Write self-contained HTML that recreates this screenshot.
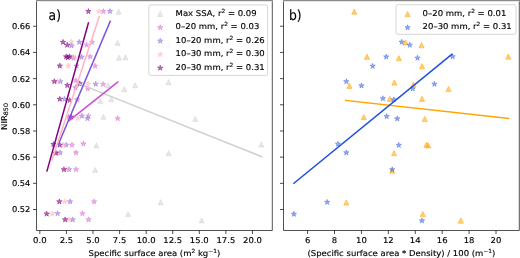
<!DOCTYPE html>
<html><head><meta charset="utf-8"><title>NIR850 vs SSA</title>
<style>html,body{margin:0;padding:0;background:#fff;width:520px;height:258px;overflow:hidden}svg{display:block}</style>
</head><body>
<svg width="520" height="258" viewBox="0 0 520 258" text-rendering="geometricPrecision" font-family="'DejaVu Sans', 'Liberation Sans', sans-serif" fill="#000"><style>text{stroke:#000;stroke-width:0.14px;paint-order:stroke}</style>
<rect width="520" height="258" fill="#fff"/>
<defs><clipPath id="cl"><rect x="36.50" y="0.10" width="235.80" height="230.40"/></clipPath><clipPath id="cr"><rect x="283.50" y="0.10" width="235.80" height="230.40"/></clipPath></defs>
<g clip-path="url(#cl)">
<path d="M118.60 9.00 L116.00 14.20 L121.20 14.20 Z" fill="#d3d3d3" fill-opacity="0.54" stroke="#d3d3d3" stroke-opacity="0.60" stroke-width="0.80" stroke-linejoin="miter"/>
<path d="M117.60 40.20 L115.00 45.40 L120.20 45.40 Z" fill="#d3d3d3" fill-opacity="0.54" stroke="#d3d3d3" stroke-opacity="0.60" stroke-width="0.80" stroke-linejoin="miter"/>
<path d="M119.10 55.10 L116.50 60.30 L121.70 60.30 Z" fill="#d3d3d3" fill-opacity="0.54" stroke="#d3d3d3" stroke-opacity="0.60" stroke-width="0.80" stroke-linejoin="miter"/>
<path d="M125.50 54.70 L122.90 59.90 L128.10 59.90 Z" fill="#d3d3d3" fill-opacity="0.54" stroke="#d3d3d3" stroke-opacity="0.60" stroke-width="0.80" stroke-linejoin="miter"/>
<path d="M169.00 42.60 L166.40 47.80 L171.60 47.80 Z" fill="#d3d3d3" fill-opacity="0.54" stroke="#d3d3d3" stroke-opacity="0.60" stroke-width="0.80" stroke-linejoin="miter"/>
<path d="M108.00 82.80 L105.40 88.00 L110.60 88.00 Z" fill="#d3d3d3" fill-opacity="0.54" stroke="#d3d3d3" stroke-opacity="0.60" stroke-width="0.80" stroke-linejoin="miter"/>
<path d="M135.10 82.60 L132.50 87.80 L137.70 87.80 Z" fill="#d3d3d3" fill-opacity="0.54" stroke="#d3d3d3" stroke-opacity="0.60" stroke-width="0.80" stroke-linejoin="miter"/>
<path d="M124.30 86.60 L121.70 91.80 L126.90 91.80 Z" fill="#d3d3d3" fill-opacity="0.54" stroke="#d3d3d3" stroke-opacity="0.60" stroke-width="0.80" stroke-linejoin="miter"/>
<path d="M100.20 98.30 L97.60 103.50 L102.80 103.50 Z" fill="#d3d3d3" fill-opacity="0.54" stroke="#d3d3d3" stroke-opacity="0.60" stroke-width="0.80" stroke-linejoin="miter"/>
<path d="M111.20 96.50 L108.60 101.70 L113.80 101.70 Z" fill="#d3d3d3" fill-opacity="0.54" stroke="#d3d3d3" stroke-opacity="0.60" stroke-width="0.80" stroke-linejoin="miter"/>
<path d="M103.40 114.10 L100.80 119.30 L106.00 119.30 Z" fill="#d3d3d3" fill-opacity="0.54" stroke="#d3d3d3" stroke-opacity="0.60" stroke-width="0.80" stroke-linejoin="miter"/>
<path d="M96.40 142.70 L93.80 147.90 L99.00 147.90 Z" fill="#d3d3d3" fill-opacity="0.54" stroke="#d3d3d3" stroke-opacity="0.60" stroke-width="0.80" stroke-linejoin="miter"/>
<path d="M95.20 167.30 L92.60 172.50 L97.80 172.50 Z" fill="#d3d3d3" fill-opacity="0.54" stroke="#d3d3d3" stroke-opacity="0.60" stroke-width="0.80" stroke-linejoin="miter"/>
<path d="M168.60 79.50 L166.00 84.70 L171.20 84.70 Z" fill="#d3d3d3" fill-opacity="0.54" stroke="#d3d3d3" stroke-opacity="0.60" stroke-width="0.80" stroke-linejoin="miter"/>
<path d="M195.30 116.30 L192.70 121.50 L197.90 121.50 Z" fill="#d3d3d3" fill-opacity="0.54" stroke="#d3d3d3" stroke-opacity="0.60" stroke-width="0.80" stroke-linejoin="miter"/>
<path d="M261.40 141.90 L258.80 147.10 L264.00 147.10 Z" fill="#d3d3d3" fill-opacity="0.54" stroke="#d3d3d3" stroke-opacity="0.60" stroke-width="0.80" stroke-linejoin="miter"/>
<path d="M168.60 150.60 L166.00 155.80 L171.20 155.80 Z" fill="#d3d3d3" fill-opacity="0.54" stroke="#d3d3d3" stroke-opacity="0.60" stroke-width="0.80" stroke-linejoin="miter"/>
<path d="M160.70 199.60 L158.10 204.80 L163.30 204.80 Z" fill="#d3d3d3" fill-opacity="0.54" stroke="#d3d3d3" stroke-opacity="0.60" stroke-width="0.80" stroke-linejoin="miter"/>
<path d="M128.10 211.40 L125.50 216.60 L130.70 216.60 Z" fill="#d3d3d3" fill-opacity="0.54" stroke="#d3d3d3" stroke-opacity="0.60" stroke-width="0.80" stroke-linejoin="miter"/>
<path d="M201.70 217.70 L199.10 222.90 L204.30 222.90 Z" fill="#d3d3d3" fill-opacity="0.54" stroke="#d3d3d3" stroke-opacity="0.60" stroke-width="0.80" stroke-linejoin="miter"/>
<path d="M78.20 79.90 L75.60 85.10 L80.80 85.10 Z" fill="#d3d3d3" fill-opacity="0.54" stroke="#d3d3d3" stroke-opacity="0.60" stroke-width="0.80" stroke-linejoin="miter"/>
<path d="M103.40 8.60 L102.77 10.53 L100.74 10.53 L102.38 11.73 L101.75 13.67 L103.40 12.47 L105.05 13.67 L104.42 11.73 L106.06 10.53 L104.03 10.53 Z" fill="#da70d6" fill-opacity="0.54" stroke="#da70d6" stroke-opacity="0.60" stroke-width="0.80" stroke-linejoin="miter"/>
<path d="M86.60 42.20 L85.97 44.13 L83.94 44.13 L85.58 45.33 L84.95 47.27 L86.60 46.07 L88.25 47.27 L87.62 45.33 L89.26 44.13 L87.23 44.13 Z" fill="#da70d6" fill-opacity="0.54" stroke="#da70d6" stroke-opacity="0.60" stroke-width="0.80" stroke-linejoin="miter"/>
<path d="M92.00 39.40 L91.37 41.33 L89.34 41.33 L90.98 42.53 L90.35 44.47 L92.00 43.27 L93.65 44.47 L93.02 42.53 L94.66 41.33 L92.63 41.33 Z" fill="#da70d6" fill-opacity="0.54" stroke="#da70d6" stroke-opacity="0.60" stroke-width="0.80" stroke-linejoin="miter"/>
<path d="M90.10 53.90 L89.47 55.83 L87.44 55.83 L89.08 57.03 L88.45 58.97 L90.10 57.77 L91.75 58.97 L91.12 57.03 L92.76 55.83 L90.73 55.83 Z" fill="#da70d6" fill-opacity="0.54" stroke="#da70d6" stroke-opacity="0.60" stroke-width="0.80" stroke-linejoin="miter"/>
<path d="M95.10 63.20 L94.47 65.13 L92.44 65.13 L94.08 66.33 L93.45 68.27 L95.10 67.07 L96.75 68.27 L96.12 66.33 L97.76 65.13 L95.73 65.13 Z" fill="#da70d6" fill-opacity="0.54" stroke="#da70d6" stroke-opacity="0.60" stroke-width="0.80" stroke-linejoin="miter"/>
<path d="M75.90 77.80 L75.27 79.73 L73.24 79.73 L74.88 80.93 L74.25 82.87 L75.90 81.67 L77.55 82.87 L76.92 80.93 L78.56 79.73 L76.53 79.73 Z" fill="#da70d6" fill-opacity="0.54" stroke="#da70d6" stroke-opacity="0.60" stroke-width="0.80" stroke-linejoin="miter"/>
<path d="M87.90 86.00 L87.27 87.93 L85.24 87.93 L86.88 89.13 L86.25 91.07 L87.90 89.87 L89.55 91.07 L88.92 89.13 L90.56 87.93 L88.53 87.93 Z" fill="#da70d6" fill-opacity="0.54" stroke="#da70d6" stroke-opacity="0.60" stroke-width="0.80" stroke-linejoin="miter"/>
<path d="M103.10 81.50 L102.47 83.43 L100.44 83.43 L102.08 84.63 L101.45 86.57 L103.10 85.37 L104.75 86.57 L104.12 84.63 L105.76 83.43 L103.73 83.43 Z" fill="#da70d6" fill-opacity="0.54" stroke="#da70d6" stroke-opacity="0.60" stroke-width="0.80" stroke-linejoin="miter"/>
<path d="M77.10 96.90 L76.47 98.83 L74.44 98.83 L76.08 100.03 L75.45 101.97 L77.10 100.77 L78.75 101.97 L78.12 100.03 L79.76 98.83 L77.73 98.83 Z" fill="#da70d6" fill-opacity="0.54" stroke="#da70d6" stroke-opacity="0.60" stroke-width="0.80" stroke-linejoin="miter"/>
<path d="M88.40 113.20 L87.77 115.13 L85.74 115.13 L87.38 116.33 L86.75 118.27 L88.40 117.07 L90.05 118.27 L89.42 116.33 L91.06 115.13 L89.03 115.13 Z" fill="#da70d6" fill-opacity="0.54" stroke="#da70d6" stroke-opacity="0.60" stroke-width="0.80" stroke-linejoin="miter"/>
<path d="M117.70 115.70 L117.07 117.63 L115.04 117.63 L116.68 118.83 L116.05 120.77 L117.70 119.57 L119.35 120.77 L118.72 118.83 L120.36 117.63 L118.33 117.63 Z" fill="#da70d6" fill-opacity="0.54" stroke="#da70d6" stroke-opacity="0.60" stroke-width="0.80" stroke-linejoin="miter"/>
<path d="M72.00 142.20 L71.37 144.13 L69.34 144.13 L70.98 145.33 L70.35 147.27 L72.00 146.07 L73.65 147.27 L73.02 145.33 L74.66 144.13 L72.63 144.13 Z" fill="#da70d6" fill-opacity="0.54" stroke="#da70d6" stroke-opacity="0.60" stroke-width="0.80" stroke-linejoin="miter"/>
<path d="M83.40 141.00 L82.77 142.93 L80.74 142.93 L82.38 144.13 L81.75 146.07 L83.40 144.87 L85.05 146.07 L84.42 144.13 L86.06 142.93 L84.03 142.93 Z" fill="#da70d6" fill-opacity="0.54" stroke="#da70d6" stroke-opacity="0.60" stroke-width="0.80" stroke-linejoin="miter"/>
<path d="M76.00 149.90 L75.37 151.83 L73.34 151.83 L74.98 153.03 L74.35 154.97 L76.00 153.77 L77.65 154.97 L77.02 153.03 L78.66 151.83 L76.63 151.83 Z" fill="#da70d6" fill-opacity="0.54" stroke="#da70d6" stroke-opacity="0.60" stroke-width="0.80" stroke-linejoin="miter"/>
<path d="M76.00 166.70 L75.37 168.63 L73.34 168.63 L74.98 169.83 L74.35 171.77 L76.00 170.57 L77.65 171.77 L77.02 169.83 L78.66 168.63 L76.63 168.63 Z" fill="#da70d6" fill-opacity="0.54" stroke="#da70d6" stroke-opacity="0.60" stroke-width="0.80" stroke-linejoin="miter"/>
<path d="M94.10 198.90 L93.47 200.83 L91.44 200.83 L93.08 202.03 L92.45 203.97 L94.10 202.77 L95.75 203.97 L95.12 202.03 L96.76 200.83 L94.73 200.83 Z" fill="#da70d6" fill-opacity="0.54" stroke="#da70d6" stroke-opacity="0.60" stroke-width="0.80" stroke-linejoin="miter"/>
<path d="M82.40 210.70 L81.77 212.63 L79.74 212.63 L81.38 213.83 L80.75 215.77 L82.40 214.57 L84.05 215.77 L83.42 213.83 L85.06 212.63 L83.03 212.63 Z" fill="#da70d6" fill-opacity="0.54" stroke="#da70d6" stroke-opacity="0.60" stroke-width="0.80" stroke-linejoin="miter"/>
<path d="M88.60 216.90 L87.97 218.83 L85.94 218.83 L87.58 220.03 L86.95 221.97 L88.60 220.77 L90.25 221.97 L89.62 220.03 L91.26 218.83 L89.23 218.83 Z" fill="#da70d6" fill-opacity="0.54" stroke="#da70d6" stroke-opacity="0.60" stroke-width="0.80" stroke-linejoin="miter"/>
<path d="M68.80 114.30 L68.17 116.23 L66.14 116.23 L67.78 117.43 L67.15 119.37 L68.80 118.17 L70.45 119.37 L69.82 117.43 L71.46 116.23 L69.43 116.23 Z" fill="#da70d6" fill-opacity="0.54" stroke="#da70d6" stroke-opacity="0.60" stroke-width="0.80" stroke-linejoin="miter"/>
<path d="M110.00 8.60 L109.37 10.53 L107.34 10.53 L108.98 11.73 L108.35 13.67 L110.00 12.47 L111.65 13.67 L111.02 11.73 L112.66 10.53 L110.63 10.53 Z" fill="#9370db" fill-opacity="0.54" stroke="#9370db" stroke-opacity="0.60" stroke-width="0.80" stroke-linejoin="miter"/>
<path d="M71.50 42.90 L70.87 44.83 L68.84 44.83 L70.48 46.03 L69.85 47.97 L71.50 46.77 L73.15 47.97 L72.52 46.03 L74.16 44.83 L72.13 44.83 Z" fill="#9370db" fill-opacity="0.54" stroke="#9370db" stroke-opacity="0.60" stroke-width="0.80" stroke-linejoin="miter"/>
<path d="M79.30 39.40 L78.67 41.33 L76.64 41.33 L78.28 42.53 L77.65 44.47 L79.30 43.27 L80.95 44.47 L80.32 42.53 L81.96 41.33 L79.93 41.33 Z" fill="#9370db" fill-opacity="0.54" stroke="#9370db" stroke-opacity="0.60" stroke-width="0.80" stroke-linejoin="miter"/>
<path d="M81.60 54.30 L80.97 56.23 L78.94 56.23 L80.58 57.43 L79.95 59.37 L81.60 58.17 L83.25 59.37 L82.62 57.43 L84.26 56.23 L82.23 56.23 Z" fill="#9370db" fill-opacity="0.54" stroke="#9370db" stroke-opacity="0.60" stroke-width="0.80" stroke-linejoin="miter"/>
<path d="M73.60 55.30 L72.97 57.23 L70.94 57.23 L72.58 58.43 L71.95 60.37 L73.60 59.17 L75.25 60.37 L74.62 58.43 L76.26 57.23 L74.23 57.23 Z" fill="#9370db" fill-opacity="0.54" stroke="#9370db" stroke-opacity="0.60" stroke-width="0.80" stroke-linejoin="miter"/>
<path d="M76.50 63.10 L75.87 65.03 L73.84 65.03 L75.48 66.23 L74.85 68.17 L76.50 66.97 L78.15 68.17 L77.52 66.23 L79.16 65.03 L77.13 65.03 Z" fill="#9370db" fill-opacity="0.54" stroke="#9370db" stroke-opacity="0.60" stroke-width="0.80" stroke-linejoin="miter"/>
<path d="M60.30 78.70 L59.67 80.63 L57.64 80.63 L59.28 81.83 L58.65 83.77 L60.30 82.57 L61.95 83.77 L61.32 81.83 L62.96 80.63 L60.93 80.63 Z" fill="#9370db" fill-opacity="0.54" stroke="#9370db" stroke-opacity="0.60" stroke-width="0.80" stroke-linejoin="miter"/>
<path d="M95.70 81.30 L95.07 83.23 L93.04 83.23 L94.68 84.43 L94.05 86.37 L95.70 85.17 L97.35 86.37 L96.72 84.43 L98.36 83.23 L96.33 83.23 Z" fill="#9370db" fill-opacity="0.54" stroke="#9370db" stroke-opacity="0.60" stroke-width="0.80" stroke-linejoin="miter"/>
<path d="M64.50 96.30 L63.87 98.23 L61.84 98.23 L63.48 99.43 L62.85 101.37 L64.50 100.17 L66.15 101.37 L65.52 99.43 L67.16 98.23 L65.13 98.23 Z" fill="#9370db" fill-opacity="0.54" stroke="#9370db" stroke-opacity="0.60" stroke-width="0.80" stroke-linejoin="miter"/>
<path d="M81.90 113.20 L81.27 115.13 L79.24 115.13 L80.88 116.33 L80.25 118.27 L81.90 117.07 L83.55 118.27 L82.92 116.33 L84.56 115.13 L82.53 115.13 Z" fill="#9370db" fill-opacity="0.54" stroke="#9370db" stroke-opacity="0.60" stroke-width="0.80" stroke-linejoin="miter"/>
<path d="M87.50 115.70 L86.87 117.63 L84.84 117.63 L86.48 118.83 L85.85 120.77 L87.50 119.57 L89.15 120.77 L88.52 118.83 L90.16 117.63 L88.13 117.63 Z" fill="#9370db" fill-opacity="0.54" stroke="#9370db" stroke-opacity="0.60" stroke-width="0.80" stroke-linejoin="miter"/>
<path d="M66.20 142.20 L65.57 144.13 L63.54 144.13 L65.18 145.33 L64.55 147.27 L66.20 146.07 L67.85 147.27 L67.22 145.33 L68.86 144.13 L66.83 144.13 Z" fill="#9370db" fill-opacity="0.54" stroke="#9370db" stroke-opacity="0.60" stroke-width="0.80" stroke-linejoin="miter"/>
<path d="M60.10 149.90 L59.47 151.83 L57.44 151.83 L59.08 153.03 L58.45 154.97 L60.10 153.77 L61.75 154.97 L61.12 153.03 L62.76 151.83 L60.73 151.83 Z" fill="#9370db" fill-opacity="0.54" stroke="#9370db" stroke-opacity="0.60" stroke-width="0.80" stroke-linejoin="miter"/>
<path d="M69.00 166.70 L68.37 168.63 L66.34 168.63 L67.98 169.83 L67.35 171.77 L69.00 170.57 L70.65 171.77 L70.02 169.83 L71.66 168.63 L69.63 168.63 Z" fill="#9370db" fill-opacity="0.54" stroke="#9370db" stroke-opacity="0.60" stroke-width="0.80" stroke-linejoin="miter"/>
<path d="M70.10 198.90 L69.47 200.83 L67.44 200.83 L69.08 202.03 L68.45 203.97 L70.10 202.77 L71.75 203.97 L71.12 202.03 L72.76 200.83 L70.73 200.83 Z" fill="#9370db" fill-opacity="0.54" stroke="#9370db" stroke-opacity="0.60" stroke-width="0.80" stroke-linejoin="miter"/>
<path d="M57.60 210.70 L56.97 212.63 L54.94 212.63 L56.58 213.83 L55.95 215.77 L57.60 214.57 L59.25 215.77 L58.62 213.83 L60.26 212.63 L58.23 212.63 Z" fill="#9370db" fill-opacity="0.54" stroke="#9370db" stroke-opacity="0.60" stroke-width="0.80" stroke-linejoin="miter"/>
<path d="M72.70 216.90 L72.07 218.83 L70.04 218.83 L71.68 220.03 L71.05 221.97 L72.70 220.77 L74.35 221.97 L73.72 220.03 L75.36 218.83 L73.33 218.83 Z" fill="#9370db" fill-opacity="0.54" stroke="#9370db" stroke-opacity="0.60" stroke-width="0.80" stroke-linejoin="miter"/>
<path d="M75.50 84.80 L74.87 86.73 L72.84 86.73 L74.48 87.93 L73.85 89.87 L75.50 88.67 L77.15 89.87 L76.52 87.93 L78.16 86.73 L76.13 86.73 Z" fill="#9370db" fill-opacity="0.54" stroke="#9370db" stroke-opacity="0.60" stroke-width="0.80" stroke-linejoin="miter"/>
<path d="M99.10 8.60 L98.47 10.53 L96.44 10.53 L98.08 11.73 L97.45 13.67 L99.10 12.47 L100.75 13.67 L100.12 11.73 L101.76 10.53 L99.73 10.53 Z" fill="#ffb6c1" fill-opacity="0.54" stroke="#ffb6c1" stroke-opacity="0.60" stroke-width="0.80" stroke-linejoin="miter"/>
<path d="M71.50 39.10 L70.87 41.03 L68.84 41.03 L70.48 42.23 L69.85 44.17 L71.50 42.97 L73.15 44.17 L72.52 42.23 L74.16 41.03 L72.13 41.03 Z" fill="#ffb6c1" fill-opacity="0.54" stroke="#ffb6c1" stroke-opacity="0.60" stroke-width="0.80" stroke-linejoin="miter"/>
<path d="M73.70 53.90 L73.07 55.83 L71.04 55.83 L72.68 57.03 L72.05 58.97 L73.70 57.77 L75.35 58.97 L74.72 57.03 L76.36 55.83 L74.33 55.83 Z" fill="#ffb6c1" fill-opacity="0.54" stroke="#ffb6c1" stroke-opacity="0.60" stroke-width="0.80" stroke-linejoin="miter"/>
<path d="M68.30 63.10 L67.67 65.03 L65.64 65.03 L67.28 66.23 L66.65 68.17 L68.30 66.97 L69.95 68.17 L69.32 66.23 L70.96 65.03 L68.93 65.03 Z" fill="#ffb6c1" fill-opacity="0.54" stroke="#ffb6c1" stroke-opacity="0.60" stroke-width="0.80" stroke-linejoin="miter"/>
<path d="M57.30 78.70 L56.67 80.63 L54.64 80.63 L56.28 81.83 L55.65 83.77 L57.30 82.57 L58.95 83.77 L58.32 81.83 L59.96 80.63 L57.93 80.63 Z" fill="#ffb6c1" fill-opacity="0.54" stroke="#ffb6c1" stroke-opacity="0.60" stroke-width="0.80" stroke-linejoin="miter"/>
<path d="M87.90 80.90 L87.27 82.83 L85.24 82.83 L86.88 84.03 L86.25 85.97 L87.90 84.77 L89.55 85.97 L88.92 84.03 L90.56 82.83 L88.53 82.83 Z" fill="#ffb6c1" fill-opacity="0.54" stroke="#ffb6c1" stroke-opacity="0.60" stroke-width="0.80" stroke-linejoin="miter"/>
<path d="M77.80 115.40 L77.17 117.33 L75.14 117.33 L76.78 118.53 L76.15 120.47 L77.80 119.27 L79.45 120.47 L78.82 118.53 L80.46 117.33 L78.43 117.33 Z" fill="#ffb6c1" fill-opacity="0.54" stroke="#ffb6c1" stroke-opacity="0.60" stroke-width="0.80" stroke-linejoin="miter"/>
<path d="M63.30 142.20 L62.67 144.13 L60.64 144.13 L62.28 145.33 L61.65 147.27 L63.30 146.07 L64.95 147.27 L64.32 145.33 L65.96 144.13 L63.93 144.13 Z" fill="#ffb6c1" fill-opacity="0.54" stroke="#ffb6c1" stroke-opacity="0.60" stroke-width="0.80" stroke-linejoin="miter"/>
<path d="M57.60 150.30 L56.97 152.23 L54.94 152.23 L56.58 153.43 L55.95 155.37 L57.60 154.17 L59.25 155.37 L58.62 153.43 L60.26 152.23 L58.23 152.23 Z" fill="#ffb6c1" fill-opacity="0.54" stroke="#ffb6c1" stroke-opacity="0.60" stroke-width="0.80" stroke-linejoin="miter"/>
<path d="M64.80 198.90 L64.17 200.83 L62.14 200.83 L63.78 202.03 L63.15 203.97 L64.80 202.77 L66.45 203.97 L65.82 202.03 L67.46 200.83 L65.43 200.83 Z" fill="#ffb6c1" fill-opacity="0.54" stroke="#ffb6c1" stroke-opacity="0.60" stroke-width="0.80" stroke-linejoin="miter"/>
<path d="M52.30 211.10 L51.67 213.03 L49.64 213.03 L51.28 214.23 L50.65 216.17 L52.30 214.97 L53.95 216.17 L53.32 214.23 L54.96 213.03 L52.93 213.03 Z" fill="#ffb6c1" fill-opacity="0.54" stroke="#ffb6c1" stroke-opacity="0.60" stroke-width="0.80" stroke-linejoin="miter"/>
<path d="M69.00 216.90 L68.37 218.83 L66.34 218.83 L67.98 220.03 L67.35 221.97 L69.00 220.77 L70.65 221.97 L70.02 220.03 L71.66 218.83 L69.63 218.83 Z" fill="#ffb6c1" fill-opacity="0.54" stroke="#ffb6c1" stroke-opacity="0.60" stroke-width="0.80" stroke-linejoin="miter"/>
<path d="M66.70 166.70 L66.07 168.63 L64.04 168.63 L65.68 169.83 L65.05 171.77 L66.70 170.57 L68.35 171.77 L67.72 169.83 L69.36 168.63 L67.33 168.63 Z" fill="#ffb6c1" fill-opacity="0.54" stroke="#ffb6c1" stroke-opacity="0.60" stroke-width="0.80" stroke-linejoin="miter"/>
<path d="M88.40 8.60 L87.77 10.53 L85.74 10.53 L87.38 11.73 L86.75 13.67 L88.40 12.47 L90.05 13.67 L89.42 11.73 L91.06 10.53 L89.03 10.53 Z" fill="#800080" fill-opacity="0.54" stroke="#800080" stroke-opacity="0.60" stroke-width="0.80" stroke-linejoin="miter"/>
<path d="M63.00 39.40 L62.37 41.33 L60.34 41.33 L61.98 42.53 L61.35 44.47 L63.00 43.27 L64.65 44.47 L64.02 42.53 L65.66 41.33 L63.63 41.33 Z" fill="#800080" fill-opacity="0.54" stroke="#800080" stroke-opacity="0.60" stroke-width="0.80" stroke-linejoin="miter"/>
<path d="M67.20 42.20 L66.57 44.13 L64.54 44.13 L66.18 45.33 L65.55 47.27 L67.20 46.07 L68.85 47.27 L68.22 45.33 L69.86 44.13 L67.83 44.13 Z" fill="#800080" fill-opacity="0.54" stroke="#800080" stroke-opacity="0.60" stroke-width="0.80" stroke-linejoin="miter"/>
<path d="M66.10 53.90 L65.47 55.83 L63.44 55.83 L65.08 57.03 L64.45 58.97 L66.10 57.77 L67.75 58.97 L67.12 57.03 L68.76 55.83 L66.73 55.83 Z" fill="#800080" fill-opacity="0.54" stroke="#800080" stroke-opacity="0.60" stroke-width="0.80" stroke-linejoin="miter"/>
<path d="M69.60 53.90 L68.97 55.83 L66.94 55.83 L68.58 57.03 L67.95 58.97 L69.60 57.77 L71.25 58.97 L70.62 57.03 L72.26 55.83 L70.23 55.83 Z" fill="#800080" fill-opacity="0.54" stroke="#800080" stroke-opacity="0.60" stroke-width="0.80" stroke-linejoin="miter"/>
<path d="M67.80 54.70 L67.17 56.63 L65.14 56.63 L66.78 57.83 L66.15 59.77 L67.80 58.57 L69.45 59.77 L68.82 57.83 L70.46 56.63 L68.43 56.63 Z" fill="#800080" fill-opacity="0.54" stroke="#800080" stroke-opacity="0.60" stroke-width="0.80" stroke-linejoin="miter"/>
<path d="M59.80 63.10 L59.17 65.03 L57.14 65.03 L58.78 66.23 L58.15 68.17 L59.80 66.97 L61.45 68.17 L60.82 66.23 L62.46 65.03 L60.43 65.03 Z" fill="#800080" fill-opacity="0.54" stroke="#800080" stroke-opacity="0.60" stroke-width="0.80" stroke-linejoin="miter"/>
<path d="M54.30 78.70 L53.67 80.63 L51.64 80.63 L53.28 81.83 L52.65 83.77 L54.30 82.57 L55.95 83.77 L55.32 81.83 L56.96 80.63 L54.93 80.63 Z" fill="#800080" fill-opacity="0.54" stroke="#800080" stroke-opacity="0.60" stroke-width="0.80" stroke-linejoin="miter"/>
<path d="M67.30 82.60 L66.67 84.53 L64.64 84.53 L66.28 85.73 L65.65 87.67 L67.30 86.47 L68.95 87.67 L68.32 85.73 L69.96 84.53 L67.93 84.53 Z" fill="#800080" fill-opacity="0.54" stroke="#800080" stroke-opacity="0.60" stroke-width="0.80" stroke-linejoin="miter"/>
<path d="M79.80 80.90 L79.17 82.83 L77.14 82.83 L78.78 84.03 L78.15 85.97 L79.80 84.77 L81.45 85.97 L80.82 84.03 L82.46 82.83 L80.43 82.83 Z" fill="#800080" fill-opacity="0.54" stroke="#800080" stroke-opacity="0.60" stroke-width="0.80" stroke-linejoin="miter"/>
<path d="M59.80 96.30 L59.17 98.23 L57.14 98.23 L58.78 99.43 L58.15 101.37 L59.80 100.17 L61.45 101.37 L60.82 99.43 L62.46 98.23 L60.43 98.23 Z" fill="#800080" fill-opacity="0.54" stroke="#800080" stroke-opacity="0.60" stroke-width="0.80" stroke-linejoin="miter"/>
<path d="M69.70 97.50 L69.07 99.43 L67.04 99.43 L68.68 100.63 L68.05 102.57 L69.70 101.37 L71.35 102.57 L70.72 100.63 L72.36 99.43 L70.33 99.43 Z" fill="#800080" fill-opacity="0.54" stroke="#800080" stroke-opacity="0.60" stroke-width="0.80" stroke-linejoin="miter"/>
<path d="M71.30 114.20 L70.67 116.13 L68.64 116.13 L70.28 117.33 L69.65 119.27 L71.30 118.07 L72.95 119.27 L72.32 117.33 L73.96 116.13 L71.93 116.13 Z" fill="#800080" fill-opacity="0.54" stroke="#800080" stroke-opacity="0.60" stroke-width="0.80" stroke-linejoin="miter"/>
<path d="M53.40 141.60 L52.77 143.53 L50.74 143.53 L52.38 144.73 L51.75 146.67 L53.40 145.47 L55.05 146.67 L54.42 144.73 L56.06 143.53 L54.03 143.53 Z" fill="#800080" fill-opacity="0.54" stroke="#800080" stroke-opacity="0.60" stroke-width="0.80" stroke-linejoin="miter"/>
<path d="M59.80 142.20 L59.17 144.13 L57.14 144.13 L58.78 145.33 L58.15 147.27 L59.80 146.07 L61.45 147.27 L60.82 145.33 L62.46 144.13 L60.43 144.13 Z" fill="#800080" fill-opacity="0.54" stroke="#800080" stroke-opacity="0.60" stroke-width="0.80" stroke-linejoin="miter"/>
<path d="M55.90 150.30 L55.27 152.23 L53.24 152.23 L54.88 153.43 L54.25 155.37 L55.90 154.17 L57.55 155.37 L56.92 153.43 L58.56 152.23 L56.53 152.23 Z" fill="#800080" fill-opacity="0.54" stroke="#800080" stroke-opacity="0.60" stroke-width="0.80" stroke-linejoin="miter"/>
<path d="M63.90 166.70 L63.27 168.63 L61.24 168.63 L62.88 169.83 L62.25 171.77 L63.90 170.57 L65.55 171.77 L64.92 169.83 L66.56 168.63 L64.53 168.63 Z" fill="#800080" fill-opacity="0.54" stroke="#800080" stroke-opacity="0.60" stroke-width="0.80" stroke-linejoin="miter"/>
<path d="M59.30 198.90 L58.67 200.83 L56.64 200.83 L58.28 202.03 L57.65 203.97 L59.30 202.77 L60.95 203.97 L60.32 202.03 L61.96 200.83 L59.93 200.83 Z" fill="#800080" fill-opacity="0.54" stroke="#800080" stroke-opacity="0.60" stroke-width="0.80" stroke-linejoin="miter"/>
<path d="M46.70 211.10 L46.07 213.03 L44.04 213.03 L45.68 214.23 L45.05 216.17 L46.70 214.97 L48.35 216.17 L47.72 214.23 L49.36 213.03 L47.33 213.03 Z" fill="#800080" fill-opacity="0.54" stroke="#800080" stroke-opacity="0.60" stroke-width="0.80" stroke-linejoin="miter"/>
<path d="M65.10 216.90 L64.47 218.83 L62.44 218.83 L64.08 220.03 L63.45 221.97 L65.10 220.77 L66.75 221.97 L66.12 220.03 L67.76 218.83 L65.73 218.83 Z" fill="#800080" fill-opacity="0.54" stroke="#800080" stroke-opacity="0.60" stroke-width="0.80" stroke-linejoin="miter"/>
<line x1="78.20" y1="83.40" x2="261.70" y2="156.70" stroke="#d0d0d0" stroke-width="1.5" stroke-linecap="square"/>
<line x1="68.80" y1="120.90" x2="117.70" y2="82.10" stroke="#d04cd4" stroke-width="1.5" stroke-linecap="square"/>
<line x1="58.30" y1="144.50" x2="110.20" y2="21.30" stroke="#7b55e0" stroke-width="1.5" stroke-linecap="square"/>
<line x1="52.10" y1="159.70" x2="99.30" y2="16.40" stroke="#ffb6c1" stroke-width="1.5" stroke-linecap="square"/>
<line x1="47.00" y1="170.90" x2="88.40" y2="22.90" stroke="#800080" stroke-width="1.5" stroke-linecap="square"/>
</g>
<g clip-path="url(#cr)">
<path d="M444.40 7.90 L443.77 9.83 L441.74 9.83 L443.38 11.03 L442.75 12.97 L444.40 11.77 L446.05 12.97 L445.42 11.03 L447.06 9.83 L445.03 9.83 Z" fill="#4169e1" fill-opacity="0.32" stroke="#4169e1" stroke-opacity="0.35" stroke-width="0.80" stroke-linejoin="miter"/>
<path d="M354.30 9.00 L351.70 14.20 L356.90 14.20 Z" fill="#ffa500" fill-opacity="0.54" stroke="#ffa500" stroke-opacity="0.60" stroke-width="0.80" stroke-linejoin="miter"/>
<path d="M405.50 39.90 L402.90 45.10 L408.10 45.10 Z" fill="#ffa500" fill-opacity="0.54" stroke="#ffa500" stroke-opacity="0.60" stroke-width="0.80" stroke-linejoin="miter"/>
<path d="M421.50 42.60 L418.90 47.80 L424.10 47.80 Z" fill="#ffa500" fill-opacity="0.54" stroke="#ffa500" stroke-opacity="0.60" stroke-width="0.80" stroke-linejoin="miter"/>
<path d="M367.00 54.10 L364.40 59.30 L369.60 59.30 Z" fill="#ffa500" fill-opacity="0.54" stroke="#ffa500" stroke-opacity="0.60" stroke-width="0.80" stroke-linejoin="miter"/>
<path d="M398.90 55.60 L396.30 60.80 L401.50 60.80 Z" fill="#ffa500" fill-opacity="0.54" stroke="#ffa500" stroke-opacity="0.60" stroke-width="0.80" stroke-linejoin="miter"/>
<path d="M422.00 63.60 L419.40 68.80 L424.60 68.80 Z" fill="#ffa500" fill-opacity="0.54" stroke="#ffa500" stroke-opacity="0.60" stroke-width="0.80" stroke-linejoin="miter"/>
<path d="M349.30 83.20 L346.70 88.40 L351.90 88.40 Z" fill="#ffa500" fill-opacity="0.54" stroke="#ffa500" stroke-opacity="0.60" stroke-width="0.80" stroke-linejoin="miter"/>
<path d="M394.40 79.90 L391.80 85.10 L397.00 85.10 Z" fill="#ffa500" fill-opacity="0.54" stroke="#ffa500" stroke-opacity="0.60" stroke-width="0.80" stroke-linejoin="miter"/>
<path d="M413.50 81.90 L410.90 87.10 L416.10 87.10 Z" fill="#ffa500" fill-opacity="0.54" stroke="#ffa500" stroke-opacity="0.60" stroke-width="0.80" stroke-linejoin="miter"/>
<path d="M389.80 96.20 L387.20 101.40 L392.40 101.40 Z" fill="#ffa500" fill-opacity="0.54" stroke="#ffa500" stroke-opacity="0.60" stroke-width="0.80" stroke-linejoin="miter"/>
<path d="M422.00 96.20 L419.40 101.40 L424.60 101.40 Z" fill="#ffa500" fill-opacity="0.54" stroke="#ffa500" stroke-opacity="0.60" stroke-width="0.80" stroke-linejoin="miter"/>
<path d="M448.50 86.40 L445.90 91.60 L451.10 91.60 Z" fill="#ffa500" fill-opacity="0.54" stroke="#ffa500" stroke-opacity="0.60" stroke-width="0.80" stroke-linejoin="miter"/>
<path d="M508.30 54.00 L505.70 59.20 L510.90 59.20 Z" fill="#ffa500" fill-opacity="0.54" stroke="#ffa500" stroke-opacity="0.60" stroke-width="0.80" stroke-linejoin="miter"/>
<path d="M363.80 114.50 L361.20 119.70 L366.40 119.70 Z" fill="#ffa500" fill-opacity="0.54" stroke="#ffa500" stroke-opacity="0.60" stroke-width="0.80" stroke-linejoin="miter"/>
<path d="M424.80 116.30 L422.20 121.50 L427.40 121.50 Z" fill="#ffa500" fill-opacity="0.54" stroke="#ffa500" stroke-opacity="0.60" stroke-width="0.80" stroke-linejoin="miter"/>
<path d="M426.40 142.10 L423.80 147.30 L429.00 147.30 Z" fill="#ffa500" fill-opacity="0.54" stroke="#ffa500" stroke-opacity="0.60" stroke-width="0.80" stroke-linejoin="miter"/>
<path d="M428.20 142.80 L425.60 148.00 L430.80 148.00 Z" fill="#ffa500" fill-opacity="0.54" stroke="#ffa500" stroke-opacity="0.60" stroke-width="0.80" stroke-linejoin="miter"/>
<path d="M394.10 150.60 L391.50 155.80 L396.70 155.80 Z" fill="#ffa500" fill-opacity="0.54" stroke="#ffa500" stroke-opacity="0.60" stroke-width="0.80" stroke-linejoin="miter"/>
<path d="M392.20 168.10 L389.60 173.30 L394.80 173.30 Z" fill="#ffa500" fill-opacity="0.54" stroke="#ffa500" stroke-opacity="0.60" stroke-width="0.80" stroke-linejoin="miter"/>
<path d="M346.30 199.90 L343.70 205.10 L348.90 205.10 Z" fill="#ffa500" fill-opacity="0.54" stroke="#ffa500" stroke-opacity="0.60" stroke-width="0.80" stroke-linejoin="miter"/>
<path d="M422.80 211.40 L420.20 216.60 L425.40 216.60 Z" fill="#ffa500" fill-opacity="0.54" stroke="#ffa500" stroke-opacity="0.60" stroke-width="0.80" stroke-linejoin="miter"/>
<path d="M460.80 218.00 L458.20 223.20 L463.40 223.20 Z" fill="#ffa500" fill-opacity="0.54" stroke="#ffa500" stroke-opacity="0.60" stroke-width="0.80" stroke-linejoin="miter"/>
<path d="M401.70 39.30 L401.07 41.23 L399.04 41.23 L400.68 42.43 L400.05 44.37 L401.70 43.17 L403.35 44.37 L402.72 42.43 L404.36 41.23 L402.33 41.23 Z" fill="#4169e1" fill-opacity="0.54" stroke="#4169e1" stroke-opacity="0.60" stroke-width="0.80" stroke-linejoin="miter"/>
<path d="M409.80 42.20 L409.17 44.13 L407.14 44.13 L408.78 45.33 L408.15 47.27 L409.80 46.07 L411.45 47.27 L410.82 45.33 L412.46 44.13 L410.43 44.13 Z" fill="#4169e1" fill-opacity="0.54" stroke="#4169e1" stroke-opacity="0.60" stroke-width="0.80" stroke-linejoin="miter"/>
<path d="M386.20 54.00 L385.57 55.93 L383.54 55.93 L385.18 57.13 L384.55 59.07 L386.20 57.87 L387.85 59.07 L387.22 57.13 L388.86 55.93 L386.83 55.93 Z" fill="#4169e1" fill-opacity="0.54" stroke="#4169e1" stroke-opacity="0.60" stroke-width="0.80" stroke-linejoin="miter"/>
<path d="M417.50 55.20 L416.87 57.13 L414.84 57.13 L416.48 58.33 L415.85 60.27 L417.50 59.07 L419.15 60.27 L418.52 58.33 L420.16 57.13 L418.13 57.13 Z" fill="#4169e1" fill-opacity="0.54" stroke="#4169e1" stroke-opacity="0.60" stroke-width="0.80" stroke-linejoin="miter"/>
<path d="M372.70 63.30 L372.07 65.23 L370.04 65.23 L371.68 66.43 L371.05 68.37 L372.70 67.17 L374.35 68.37 L373.72 66.43 L375.36 65.23 L373.33 65.23 Z" fill="#4169e1" fill-opacity="0.54" stroke="#4169e1" stroke-opacity="0.60" stroke-width="0.80" stroke-linejoin="miter"/>
<path d="M346.30 78.70 L345.67 80.63 L343.64 80.63 L345.28 81.83 L344.65 83.77 L346.30 82.57 L347.95 83.77 L347.32 81.83 L348.96 80.63 L346.93 80.63 Z" fill="#4169e1" fill-opacity="0.54" stroke="#4169e1" stroke-opacity="0.60" stroke-width="0.80" stroke-linejoin="miter"/>
<path d="M361.50 82.90 L360.87 84.83 L358.84 84.83 L360.48 86.03 L359.85 87.97 L361.50 86.77 L363.15 87.97 L362.52 86.03 L364.16 84.83 L362.13 84.83 Z" fill="#4169e1" fill-opacity="0.54" stroke="#4169e1" stroke-opacity="0.60" stroke-width="0.80" stroke-linejoin="miter"/>
<path d="M412.70 86.00 L412.07 87.93 L410.04 87.93 L411.68 89.13 L411.05 91.07 L412.70 89.87 L414.35 91.07 L413.72 89.13 L415.36 87.93 L413.33 87.93 Z" fill="#4169e1" fill-opacity="0.54" stroke="#4169e1" stroke-opacity="0.60" stroke-width="0.80" stroke-linejoin="miter"/>
<path d="M434.40 81.30 L433.77 83.23 L431.74 83.23 L433.38 84.43 L432.75 86.37 L434.40 85.17 L436.05 86.37 L435.42 84.43 L437.06 83.23 L435.03 83.23 Z" fill="#4169e1" fill-opacity="0.54" stroke="#4169e1" stroke-opacity="0.60" stroke-width="0.80" stroke-linejoin="miter"/>
<path d="M382.90 95.70 L382.27 97.63 L380.24 97.63 L381.88 98.83 L381.25 100.77 L382.90 99.57 L384.55 100.77 L383.92 98.83 L385.56 97.63 L383.53 97.63 Z" fill="#4169e1" fill-opacity="0.54" stroke="#4169e1" stroke-opacity="0.60" stroke-width="0.80" stroke-linejoin="miter"/>
<path d="M393.80 96.80 L393.17 98.73 L391.14 98.73 L392.78 99.93 L392.15 101.87 L393.80 100.67 L395.45 101.87 L394.82 99.93 L396.46 98.73 L394.43 98.73 Z" fill="#4169e1" fill-opacity="0.54" stroke="#4169e1" stroke-opacity="0.60" stroke-width="0.80" stroke-linejoin="miter"/>
<path d="M386.70 113.60 L386.07 115.53 L384.04 115.53 L385.68 116.73 L385.05 118.67 L386.70 117.47 L388.35 118.67 L387.72 116.73 L389.36 115.53 L387.33 115.53 Z" fill="#4169e1" fill-opacity="0.54" stroke="#4169e1" stroke-opacity="0.60" stroke-width="0.80" stroke-linejoin="miter"/>
<path d="M397.20 115.90 L396.57 117.83 L394.54 117.83 L396.18 119.03 L395.55 120.97 L397.20 119.77 L398.85 120.97 L398.22 119.03 L399.86 117.83 L397.83 117.83 Z" fill="#4169e1" fill-opacity="0.54" stroke="#4169e1" stroke-opacity="0.60" stroke-width="0.80" stroke-linejoin="miter"/>
<path d="M338.00 141.20 L337.37 143.13 L335.34 143.13 L336.98 144.33 L336.35 146.27 L338.00 145.07 L339.65 146.27 L339.02 144.33 L340.66 143.13 L338.63 143.13 Z" fill="#4169e1" fill-opacity="0.54" stroke="#4169e1" stroke-opacity="0.60" stroke-width="0.80" stroke-linejoin="miter"/>
<path d="M346.30 149.90 L345.67 151.83 L343.64 151.83 L345.28 153.03 L344.65 154.97 L346.30 153.77 L347.95 154.97 L347.32 153.03 L348.96 151.83 L346.93 151.83 Z" fill="#4169e1" fill-opacity="0.54" stroke="#4169e1" stroke-opacity="0.60" stroke-width="0.80" stroke-linejoin="miter"/>
<path d="M398.80 142.40 L398.17 144.33 L396.14 144.33 L397.78 145.53 L397.15 147.47 L398.80 146.27 L400.45 147.47 L399.82 145.53 L401.46 144.33 L399.43 144.33 Z" fill="#4169e1" fill-opacity="0.54" stroke="#4169e1" stroke-opacity="0.60" stroke-width="0.80" stroke-linejoin="miter"/>
<path d="M392.20 166.80 L391.57 168.73 L389.54 168.73 L391.18 169.93 L390.55 171.87 L392.20 170.67 L393.85 171.87 L393.22 169.93 L394.86 168.73 L392.83 168.73 Z" fill="#4169e1" fill-opacity="0.54" stroke="#4169e1" stroke-opacity="0.60" stroke-width="0.80" stroke-linejoin="miter"/>
<path d="M327.20 199.40 L326.57 201.33 L324.54 201.33 L326.18 202.53 L325.55 204.47 L327.20 203.27 L328.85 204.47 L328.22 202.53 L329.86 201.33 L327.83 201.33 Z" fill="#4169e1" fill-opacity="0.54" stroke="#4169e1" stroke-opacity="0.60" stroke-width="0.80" stroke-linejoin="miter"/>
<path d="M293.90 211.30 L293.27 213.23 L291.24 213.23 L292.88 214.43 L292.25 216.37 L293.90 215.17 L295.55 216.37 L294.92 214.43 L296.56 213.23 L294.53 213.23 Z" fill="#4169e1" fill-opacity="0.54" stroke="#4169e1" stroke-opacity="0.60" stroke-width="0.80" stroke-linejoin="miter"/>
<path d="M422.00 217.90 L421.37 219.83 L419.34 219.83 L420.98 221.03 L420.35 222.97 L422.00 221.77 L423.65 222.97 L423.02 221.03 L424.66 219.83 L422.63 219.83 Z" fill="#4169e1" fill-opacity="0.54" stroke="#4169e1" stroke-opacity="0.60" stroke-width="0.80" stroke-linejoin="miter"/>
<path d="M452.60 53.80 L451.97 55.73 L449.94 55.73 L451.58 56.93 L450.95 58.87 L452.60 57.67 L454.25 58.87 L453.62 56.93 L455.26 55.73 L453.23 55.73 Z" fill="#4169e1" fill-opacity="0.54" stroke="#4169e1" stroke-opacity="0.60" stroke-width="0.80" stroke-linejoin="miter"/>
<line x1="345.70" y1="100.40" x2="508.50" y2="118.30" stroke="#ffa500" stroke-width="1.5" stroke-linecap="square"/>
<line x1="293.90" y1="183.30" x2="451.80" y2="54.30" stroke="#1f4fe0" stroke-width="1.5" stroke-linecap="square"/>
</g>
<rect x="148.90" y="4.90" width="118.70" height="70.50" rx="2" ry="2" fill="#fff" fill-opacity="0.8" stroke="#cccccc" stroke-width="0.8"/>
<path d="M160.20 11.30 L157.60 16.50 L162.80 16.50 Z" fill="#d3d3d3" fill-opacity="0.54" stroke="#d3d3d3" stroke-opacity="0.60" stroke-width="0.80" stroke-linejoin="miter"/>
<text transform="translate(175.60 15.90) scale(1.060 1)" font-size="8" text-anchor="start" >Max SSA, r<tspan font-size="5.6" dy="-3.4">2</tspan><tspan dy="3.4"> = 0.09</tspan></text>
<path d="M160.20 24.70 L159.57 26.63 L157.54 26.63 L159.18 27.83 L158.55 29.77 L160.20 28.57 L161.85 29.77 L161.22 27.83 L162.86 26.63 L160.83 26.63 Z" fill="#da70d6" fill-opacity="0.54" stroke="#da70d6" stroke-opacity="0.60" stroke-width="0.80" stroke-linejoin="miter"/>
<text transform="translate(175.60 29.40) scale(1.060 1)" font-size="8" text-anchor="start" >0–20 mm, r<tspan font-size="5.6" dy="-3.4">2</tspan><tspan dy="3.4"> = 0.03</tspan></text>
<path d="M160.20 38.20 L159.57 40.13 L157.54 40.13 L159.18 41.33 L158.55 43.27 L160.20 42.07 L161.85 43.27 L161.22 41.33 L162.86 40.13 L160.83 40.13 Z" fill="#9370db" fill-opacity="0.54" stroke="#9370db" stroke-opacity="0.60" stroke-width="0.80" stroke-linejoin="miter"/>
<text transform="translate(175.60 42.90) scale(1.060 1)" font-size="8" text-anchor="start" >10–20 mm, r<tspan font-size="5.6" dy="-3.4">2</tspan><tspan dy="3.4"> = 0.26</tspan></text>
<path d="M160.20 51.70 L159.57 53.63 L157.54 53.63 L159.18 54.83 L158.55 56.77 L160.20 55.57 L161.85 56.77 L161.22 54.83 L162.86 53.63 L160.83 53.63 Z" fill="#ffb6c1" fill-opacity="0.54" stroke="#ffb6c1" stroke-opacity="0.60" stroke-width="0.80" stroke-linejoin="miter"/>
<text transform="translate(175.60 56.40) scale(1.060 1)" font-size="8" text-anchor="start" >10–30 mm, r<tspan font-size="5.6" dy="-3.4">2</tspan><tspan dy="3.4"> = 0.30</tspan></text>
<path d="M160.20 65.20 L159.57 67.13 L157.54 67.13 L159.18 68.33 L158.55 70.27 L160.20 69.07 L161.85 70.27 L161.22 68.33 L162.86 67.13 L160.83 67.13 Z" fill="#800080" fill-opacity="0.54" stroke="#800080" stroke-opacity="0.60" stroke-width="0.80" stroke-linejoin="miter"/>
<text transform="translate(175.60 69.90) scale(1.060 1)" font-size="8" text-anchor="start" >20–30 mm, r<tspan font-size="5.6" dy="-3.4">2</tspan><tspan dy="3.4"> = 0.31</tspan></text>
<rect x="396.00" y="4.70" width="120.00" height="29.60" rx="2" ry="2" fill="#fff" fill-opacity="0.8" stroke="#cccccc" stroke-width="0.8"/>
<path d="M407.60 11.40 L405.00 16.60 L410.20 16.60 Z" fill="#ffa500" fill-opacity="0.54" stroke="#ffa500" stroke-opacity="0.60" stroke-width="0.80" stroke-linejoin="miter"/>
<text transform="translate(422.60 15.90) scale(1.060 1)" font-size="8" text-anchor="start" >0–20 mm, r<tspan font-size="5.6" dy="-3.4">2</tspan><tspan dy="3.4"> = 0.01</tspan></text>
<path d="M407.60 24.80 L406.97 26.73 L404.94 26.73 L406.58 27.93 L405.95 29.87 L407.60 28.67 L409.25 29.87 L408.62 27.93 L410.26 26.73 L408.23 26.73 Z" fill="#4169e1" fill-opacity="0.54" stroke="#4169e1" stroke-opacity="0.60" stroke-width="0.80" stroke-linejoin="miter"/>
<text transform="translate(422.60 29.40) scale(1.060 1)" font-size="8" text-anchor="start" >20–30 mm, r<tspan font-size="5.6" dy="-3.4">2</tspan><tspan dy="3.4"> = 0.31</tspan></text>
<path d="M36.50 0 V230.50 H272.30 V0" fill="none" stroke="#000" stroke-width="0.68"/>
<rect x="36.10" y="0" width="236.60" height="1" fill="#8a8a8a"/>
<rect x="36.10" y="1" width="236.60" height="0.6" fill="#d8d8d8"/>
<path d="M283.50 0 V230.50 H519.30 V0" fill="none" stroke="#000" stroke-width="0.68"/>
<rect x="283.10" y="0" width="236.60" height="1" fill="#8a8a8a"/>
<rect x="283.10" y="1" width="236.60" height="0.6" fill="#d8d8d8"/>
<text transform="translate(30.40 212.41) scale(1.040 1)" font-size="8" text-anchor="end" >0.52</text>
<text transform="translate(30.40 186.23) scale(1.040 1)" font-size="8" text-anchor="end" >0.54</text>
<text transform="translate(30.40 160.05) scale(1.040 1)" font-size="8" text-anchor="end" >0.56</text>
<text transform="translate(30.40 133.87) scale(1.040 1)" font-size="8" text-anchor="end" >0.58</text>
<text transform="translate(30.40 107.69) scale(1.040 1)" font-size="8" text-anchor="end" >0.60</text>
<text transform="translate(30.40 81.51) scale(1.040 1)" font-size="8" text-anchor="end" >0.62</text>
<text transform="translate(30.40 55.33) scale(1.040 1)" font-size="8" text-anchor="end" >0.64</text>
<text transform="translate(30.40 29.15) scale(1.040 1)" font-size="8" text-anchor="end" >0.66</text>
<text transform="translate(39.85 242.80) scale(1.060 1)" font-size="8" text-anchor="middle" >0.0</text>
<text transform="translate(66.43 242.80) scale(1.060 1)" font-size="8" text-anchor="middle" >2.5</text>
<text transform="translate(93.00 242.80) scale(1.060 1)" font-size="8" text-anchor="middle" >5.0</text>
<text transform="translate(119.58 242.80) scale(1.060 1)" font-size="8" text-anchor="middle" >7.5</text>
<text transform="translate(146.15 242.80) scale(1.060 1)" font-size="8" text-anchor="middle" >10.0</text>
<text transform="translate(172.72 242.80) scale(1.060 1)" font-size="8" text-anchor="middle" >12.5</text>
<text transform="translate(199.30 242.80) scale(1.060 1)" font-size="8" text-anchor="middle" >15.0</text>
<text transform="translate(225.88 242.80) scale(1.060 1)" font-size="8" text-anchor="middle" >17.5</text>
<text transform="translate(252.45 242.80) scale(1.060 1)" font-size="8" text-anchor="middle" >20.0</text>
<text transform="translate(307.60 242.80) scale(1.060 1)" font-size="8" text-anchor="middle" >6</text>
<text transform="translate(334.51 242.80) scale(1.060 1)" font-size="8" text-anchor="middle" >8</text>
<text transform="translate(361.43 242.80) scale(1.060 1)" font-size="8" text-anchor="middle" >10</text>
<text transform="translate(388.34 242.80) scale(1.060 1)" font-size="8" text-anchor="middle" >12</text>
<text transform="translate(415.26 242.80) scale(1.060 1)" font-size="8" text-anchor="middle" >14</text>
<text transform="translate(442.17 242.80) scale(1.060 1)" font-size="8" text-anchor="middle" >16</text>
<text transform="translate(469.08 242.80) scale(1.060 1)" font-size="8" text-anchor="middle" >18</text>
<text transform="translate(496.00 242.80) scale(1.060 1)" font-size="8" text-anchor="middle" >20</text>
<path d="M36.50 209.51 h-3.5 M283.50 209.51 h-3.5 M36.50 183.33 h-3.5 M283.50 183.33 h-3.5 M36.50 157.15 h-3.5 M283.50 157.15 h-3.5 M36.50 130.97 h-3.5 M283.50 130.97 h-3.5 M36.50 104.79 h-3.5 M283.50 104.79 h-3.5 M36.50 78.61 h-3.5 M283.50 78.61 h-3.5 M36.50 52.43 h-3.5 M283.50 52.43 h-3.5 M36.50 26.25 h-3.5 M283.50 26.25 h-3.5 M39.85 230.50 v3.5 M66.43 230.50 v3.5 M93.00 230.50 v3.5 M119.58 230.50 v3.5 M146.15 230.50 v3.5 M172.72 230.50 v3.5 M199.30 230.50 v3.5 M225.88 230.50 v3.5 M252.45 230.50 v3.5 M307.60 230.50 v3.5 M334.51 230.50 v3.5 M361.43 230.50 v3.5 M388.34 230.50 v3.5 M415.26 230.50 v3.5 M442.17 230.50 v3.5 M469.08 230.50 v3.5 M496.00 230.50 v3.5" stroke="#111" stroke-width="0.75" fill="none"/>
<text transform="translate(154.40 255.90) scale(1.060 1)" font-size="8" text-anchor="middle" >Specific surface area (m<tspan font-size="5.6" dy="-3.4">2</tspan><tspan dy="3.4"> kg</tspan><tspan font-size="5.6" dy="-3.4">−1</tspan><tspan dy="3.4">)</tspan></text>
<text transform="translate(401.40 255.90) scale(1.060 1)" font-size="8" text-anchor="middle" >(Specific surface area * Density) / 100 (m<tspan font-size="5.6" dy="-3.4">−1</tspan><tspan dy="3.4">)</tspan></text>
<text transform="translate(6.9 116.5) rotate(-90) scale(1.06 1)" font-size="8" text-anchor="middle">NIR<tspan font-size="6" dy="1.3">850</tspan></text>
<text transform="translate(48.60 19.90) scale(0.880 1)" font-size="14" text-anchor="start" >a)</text>
<text transform="translate(288.90 19.90) scale(0.880 1)" font-size="14" text-anchor="start" >b)</text>
</svg>
</body></html>
